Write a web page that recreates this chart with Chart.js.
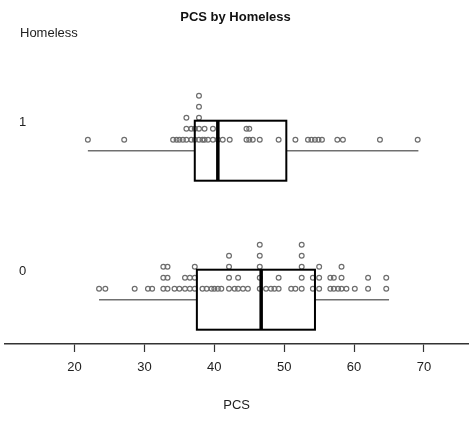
<!DOCTYPE html>
<html>
<head>
<meta charset="utf-8">
<script src="https://cdn.jsdelivr.net/npm/chart.js@4"></script>
<style>
  html, body { margin: 0; padding: 0; background: #fff; }
  #wrap { width: 474px; height: 428px; position: relative; }
</style>
</head>
<body>
<div id="wrap"><canvas id="chart"></canvas></div>
<script>
// PCS by Homeless: stacked dot strip + box plot for each group

const tickValues = [20, 30, 40, 50, 60, 70];

// PCS scores, homeless = 1 (equal values stack upward)
const pcsHomeless1 = [
  21.9, 27.1, 34.1, 34.6, 35.0, 35.5, 36.0, 36.0, 36.0, 36.7, 36.7,
  37.2, 37.2, 37.8, 37.8, 37.8, 37.8, 37.8, 38.3, 38.6, 38.6, 39.1,
  39.8, 39.8, 40.5, 41.2, 42.2, 44.6, 44.6, 45.0, 45.0, 45.5, 46.5,
  49.2, 51.6, 53.4, 53.9, 54.4, 54.9, 55.4, 57.6, 58.4, 63.7, 69.1,
];

// PCS scores, homeless = 0
const pcsHomeless0 = [
  23.5, 24.4, 28.6, 30.5, 31.1, 32.7, 32.7, 32.7, 33.3, 33.3, 33.3,
  34.3, 35.0, 35.8, 35.8, 36.5, 36.5, 37.2, 37.2, 37.2, 38.3, 38.9,
  39.6, 40.0, 40.5, 41.0, 42.1, 42.1, 42.1, 42.1, 42.9, 43.4, 43.4,
  44.1, 44.8, 46.5, 46.5, 46.5, 46.5, 46.5, 47.4, 48.1, 48.6, 49.2,
  49.2, 51.0, 51.6, 52.5, 52.5, 52.5, 52.5, 52.5, 54.1, 54.1, 55.0,
  55.0, 55.0, 56.6, 56.6, 57.1, 57.1, 57.7, 58.2, 58.2, 58.2, 58.9,
  60.1, 62.0, 62.0, 64.6, 64.6,
];

// min, Q1, median, Q3, max
const boxHomeless1 = [21.9, 37.2, 40.5, 50.3, 69.2];
const boxHomeless0 = [23.5, 37.5, 46.7, 54.4, 65.0];

const ROW = 11 / 149;       // one stacked dot, in y units
const BOX_HALF = 30 / 149;  // half box height
const FONT = '"Liberation Sans", Arial, sans-serif';

Chart.defaults.font.family = FONT;
Chart.defaults.font.size = 13;
Chart.defaults.color = '#222';

function stackPoints(values, groupY) {
  const seen = {};
  return values.map((v) => {
    const k = v.toFixed(1);
    seen[k] = (seen[k] || 0) + 1;
    return { x: v, y: groupY + seen[k] * ROW };
  });
}

const boxPlugin = {
  id: 'boxes',
  afterDatasetsDraw(chart) {
    const { ctx, scales: { x, y } } = chart;
    [[boxHomeless0, 0], [boxHomeless1, 1]].forEach(([stats, g]) => {
      const yc = y.getPixelForValue(g);
      const top = y.getPixelForValue(g + BOX_HALF);
      const bot = y.getPixelForValue(g - BOX_HALF);
      const [mn, q1, med, q3, mx] = stats.map((v) => x.getPixelForValue(v));
      ctx.save();
      ctx.strokeStyle = '#707070';
      ctx.lineWidth = 1.5;
      ctx.beginPath();
      ctx.moveTo(mn, yc); ctx.lineTo(q1, yc);
      ctx.moveTo(q3, yc); ctx.lineTo(mx, yc);
      ctx.stroke();
      ctx.strokeStyle = '#000';
      ctx.lineWidth = 2;
      ctx.strokeRect(q1, top, q3 - q1, bot - top);
      ctx.lineWidth = 3.5;
      ctx.beginPath();
      ctx.moveTo(med, top); ctx.lineTo(med, bot);
      ctx.stroke();
      ctx.restore();
    });
  },
};

// group axis: name at top left, group labels a little above each box
const groupLabels = {
  id: 'groupLabels',
  afterDraw(chart) {
    const { ctx, scales: { y } } = chart;
    ctx.save();
    ctx.fillStyle = '#222';
    ctx.font = '13px ' + FONT;
    ctx.textAlign = 'left';
    ctx.textBaseline = 'middle';
    ctx.fillText('Homeless', 20, 33.5);
    ctx.fillText('1', 19, y.getPixelForValue(1 + 0.187));
    ctx.fillText('0', 19, y.getPixelForValue(0 + 0.187));
    ctx.restore();
  },
};

const dotStyle = {
  pointStyle: 'circle',
  pointRadius: 2.4,
  pointBorderWidth: 1.2,
  pointBorderColor: '#6e6e6e',
  pointBackgroundColor: 'rgba(255,255,255,0)',
  showLine: false,
};

new Chart(document.getElementById('chart'), {
  type: 'scatter',
  data: {
    datasets: [
      { label: '1', data: stackPoints(pcsHomeless1, 1), ...dotStyle },
      { label: '0', data: stackPoints(pcsHomeless0, 0), ...dotStyle },
    ],
  },
  options: {
    responsive: true,
    maintainAspectRatio: false,
    animation: false,
    layout: { padding: { left: 3, right: 6, top: 0, bottom: 0 } },
    plugins: {
      legend: { display: false },
      tooltip: { enabled: false },
      title: {
        display: true,
        text: 'PCS by Homeless',
        color: '#111',
        font: { size: 13, weight: 'bold' },
        padding: { top: 10, bottom: 14.4 },
      },
    },
    scales: {
      x: {
        type: 'linear',
        min: 10.07,
        max: 76.3,
        afterBuildTicks: (s) => { s.ticks = tickValues.map((v) => ({ value: v })); },
        afterFit: (s) => { s.height = 84; },
        grid: { drawOnChartArea: false, drawTicks: true, tickLength: 8, tickColor: '#333', tickWidth: 1.2 },
        border: { display: true, color: '#333', width: 1.5 },
        ticks: { color: '#222', padding: 8, font: { size: 13 } },
        title: { display: true, text: 'PCS', color: '#222', font: { size: 13 }, padding: { top: 0, bottom: 15 } },
      },
      y: {
        type: 'linear',
        display: false,
        min: -0.2973,
        max: 1.743,
      },
    },
  },
  plugins: [boxPlugin, groupLabels],
});
</script>
</body>
</html>
